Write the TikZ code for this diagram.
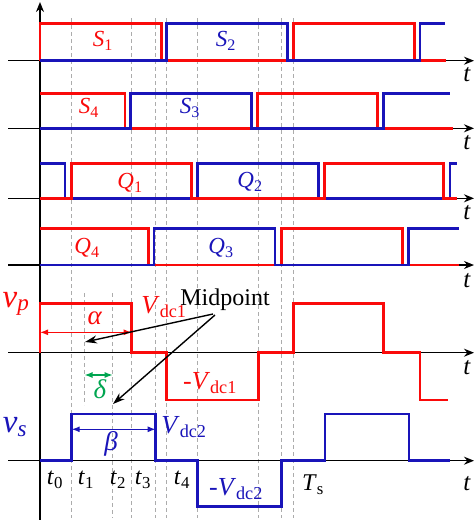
\documentclass[tikz,border=0pt]{standalone}
\usepackage{fontspec}
\setmainfont{Liberation Serif}
\usetikzlibrary{arrows.meta}
\definecolor{sred}{RGB}{250,10,10}
\definecolor{sblue}{RGB}{25,20,185}
\definecolor{sgreen}{RGB}{0,165,80}
\newcommand\ilab[2]{\textit{#1}\textsubscript{#2}}
\begin{document}
\begin{tikzpicture}[x=1pt,y=-1pt,
  axis/.style={line width=1.4pt,-{Stealth[length=10pt,width=8pt]}},
  gridl/.style={gray!65,line width=0.7pt,dash pattern=on 4pt off 3pt},
  sig/.style={line width=2.6pt,line join=miter},
  lbl/.style={font=\fontsize{23}{23}\selectfont,inner sep=0pt},
  big/.style={font=\fontsize{33}{33}\selectfont,inner sep=0pt},
  dimarr/.style={line width=1.3pt,{Latex[length=8pt,width=6pt]}-{Latex[length=8pt,width=6pt]}},
  ptr/.style={line width=1.4pt,-{Stealth[length=12pt,width=8pt]}}]
\useasboundingbox (0,0) rectangle (474,520);
% dashed grid
\foreach \x in {71.7,131.7,155.7,166.7,197.7,258.3,281.7,293.3}
  \draw[gridl] (\x,18) -- (\x,518);
\draw[gridl] (84.5,293) -- (84.5,405);
\draw[gridl] (112.7,293) -- (112.7,518);
% axes
\draw[axis] (40,520) -- (40,2);
\foreach \y in {60.7,128.3,198.3,265,352.7,460.7}
  \draw[axis] (8,\y) -- (474,\y);
% row 1
\draw[sig,sred] (40,60.7)--(40,23.3)--(161.7,23.3)--(161.7,60.7)--(293.3,60.7)--(293.3,23.3)--(414.3,23.3)--(414.3,60.7)--(446,60.7);
\draw[sig,sblue] (40,60.7)--(166.7,60.7)--(166.7,23.3)--(287.3,23.3)--(287.3,60.7)--(420,60.7)--(420,23.3)--(445,23.3);
% row 2
\draw[sig,sred] (40,93.3)--(125,93.3)--(125,128.3)--(257.3,128.3)--(257.3,93.3)--(377.7,93.3)--(377.7,128.3)--(453,128.3);
\draw[sig,sblue] (40,128.3)--(130.7,128.3)--(130.7,93.3)--(251.7,93.3)--(251.7,128.3)--(383.3,128.3)--(383.3,93.3)--(450,93.3);
% row 3
\draw[sig,sblue] (40,163.3)--(65,163.3)--(65,198.3)--(197.7,198.3)--(197.7,163.3)--(318.3,163.3)--(318.3,198.3)--(450,198.3)--(450,163.3)--(457,163.3);
\draw[sig,sred] (40,198.3)--(71.7,198.3)--(71.7,163.3)--(191.7,163.3)--(191.7,198.3)--(324.3,198.3)--(324.3,163.3)--(443.3,163.3)--(443.3,198.3)--(457,198.3);
% row 4
\draw[sig,sred] (40,228.3)--(148.3,228.3)--(148.3,265)--(281.7,265)--(281.7,228.3)--(402.3,228.3)--(402.3,265)--(459,265);
\draw[sig,sblue] (40,265)--(154,265)--(154,228.3)--(275,228.3)--(275,265)--(408.3,265)--(408.3,228.3)--(459,228.3);
% vp
\draw[sig,sred] (40,352.7)--(40,303.3)--(131.7,303.3)--(131.7,352.7)--(166.7,352.7)--(166.7,400)--(258.3,400)--(258.3,352.7)--(293.3,352.7)--(293.3,303.3)--(383.3,303.3)--(383.3,352.7)--(420,352.7)--(420,400)--(448,400);
% vs
\draw[sig,sblue] (40,460.7)--(71.7,460.7)--(71.7,414)--(155.7,414)--(155.7,460.7)--(197.7,460.7)--(197.7,506.7)--(281.7,506.7)--(281.7,460.7)--(325,460.7)--(325,414)--(409,414)--(409,460.7)--(450,460.7);
% dimension arrows
\coordinate (a1) at (40,332.3); \coordinate (a2) at (131.7,332.3);
\coordinate (d1) at (84.5,375); \coordinate (d2) at (112.7,375);
\coordinate (b1) at (71.7,429.3); \coordinate (b2) at (155.7,429.3);
\draw[dimarr,sred] (a1) -- (a2);
\draw[dimarr,sgreen] (d1) -- (d2);
\draw[dimarr,sblue] (b1) -- (b2);
% labels
\node[lbl,sred] at (103,41) {\ilab{S}{1}};
\node[lbl,sblue] at (226,41) {\ilab{S}{2}};
\node[lbl,sred] at (89,108) {\ilab{S}{4}};
\node[lbl,sblue] at (190,108) {\ilab{S}{3}};
\node[lbl,sred] at (130,183) {\ilab{Q}{1}};
\node[lbl,sblue] at (250,182) {\ilab{Q}{2}};
\node[lbl,sred] at (87,248) {\ilab{Q}{4}};
\node[lbl,sblue] at (221,248) {\ilab{Q}{3}};
\foreach \y in {75,143,213,281,368,484}
  \node[lbl,font=\fontsize{25}{25}\selectfont] at (467,\y) {\textit{t}};
\node[big,sred] at (16,304) {\ilab{v}{\textit{p}}};
\node[big,sblue] at (15,427) {\ilab{v}{\textit{s}}};
\node[lbl,sred,font=\fontsize{27}{27}\selectfont] at (95,318) {\textit{α}};
\node[lbl,sgreen,font=\fontsize{27}{27}\selectfont] at (100,389) {\textit{δ}};
\node[lbl,sblue,font=\fontsize{27}{27}\selectfont] at (111,444) {\textit{β}};
\node[lbl,sred,font=\fontsize{26}{26}\selectfont] at (164,307) {\ilab{V}{dc1}};
\node[lbl,sred,font=\fontsize{26}{26}\selectfont] at (210,383) {-\ilab{V}{dc1}};
\node[lbl,sblue,font=\fontsize{26}{26}\selectfont] at (184,427) {\ilab{V}{dc2}};
\node[lbl,sblue,font=\fontsize{26}{26}\selectfont] at (236,489) {-\ilab{V}{dc2}};
\node[lbl,font=\fontsize{24}{24}\selectfont] (mp) at (225,300) {Midpoint};
\coordinate (m1) at (85,342);
\coordinate (m2) at (113,404);
\draw[ptr] (213,314) -- (m1);
\draw[ptr] (215,315) -- (m2);
\node[lbl,font=\fontsize{24}{24}\selectfont] at (55,480) {\ilab{t}{0}};
\node[lbl,font=\fontsize{24}{24}\selectfont] at (86,480) {\ilab{t}{1}};
\node[lbl,font=\fontsize{24}{24}\selectfont] at (118,480) {\ilab{t}{2}};
\node[lbl,font=\fontsize{24}{24}\selectfont] at (143,480) {\ilab{t}{3}};
\node[lbl,font=\fontsize{24}{24}\selectfont] at (182,480) {\ilab{t}{4}};
\node[lbl,font=\fontsize{24}{24}\selectfont] at (313,485) {\ilab{T}{s}};
\end{tikzpicture}
\end{document}
